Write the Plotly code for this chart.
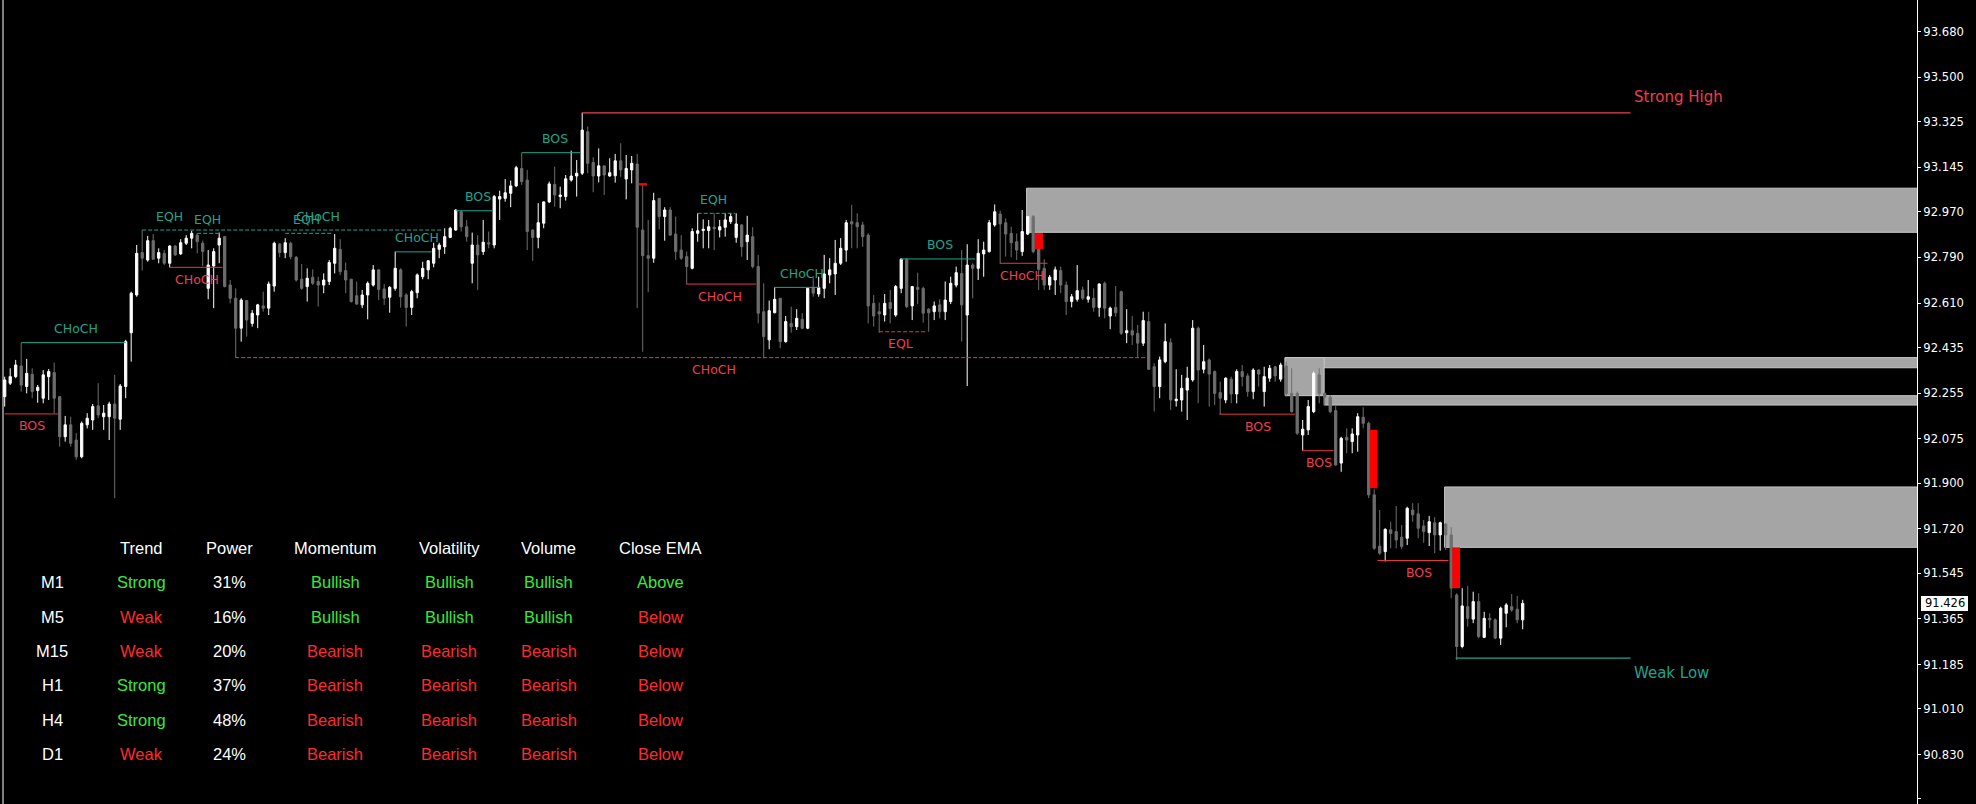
import plotly.graph_objects as go

# ---------------- candle data (M1 bars) ----------------
opens = [92.241,92.294,92.320,92.362,92.281,92.329,92.265,92.235,92.320,92.336,
92.241,92.083,92.130,92.070,92.004,92.130,92.149,92.205,92.162,92.162,
92.212,92.152,92.281,92.493,92.642,92.809,92.780,92.856,92.787,92.806,
92.767,92.835,92.804,92.846,92.866,92.878,92.846,92.668,92.756,92.839,
92.872,92.681,92.629,92.511,92.620,92.530,92.563,92.599,92.590,92.677,
92.843,92.809,92.846,92.791,92.704,92.675,92.712,92.695,92.681,92.695,
92.767,92.822,92.738,92.704,92.639,92.603,92.642,92.681,92.741,92.666,
92.633,92.668,92.741,92.642,92.593,92.651,92.714,92.741,92.767,92.822,
92.832,92.869,92.898,92.970,92.911,92.767,92.839,92.813,92.848,92.839,
93.020,93.023,93.043,93.072,93.141,93.095,92.898,92.869,92.925,93.009,
93.078,93.030,93.030,93.095,93.111,93.122,93.286,93.164,93.111,93.151,
93.111,93.112,93.171,93.099,93.135,93.158,92.898,92.797,92.787,93.023,
92.951,92.977,92.882,92.819,92.793,92.747,92.885,92.896,92.896,92.909,
92.898,92.909,92.931,92.869,92.918,92.852,92.872,92.754,92.576,92.465,
92.572,92.629,92.458,92.530,92.517,92.546,92.511,92.672,92.646,92.668,
92.721,92.725,92.767,92.819,92.931,92.927,92.918,92.878,92.609,92.576,
92.563,92.612,92.563,92.668,92.783,92.599,92.672,92.668,92.586,92.576,
92.603,92.576,92.616,92.681,92.727,92.563,92.760,92.747,92.804,92.813,
92.918,92.961,92.927,92.885,92.852,92.813,92.882,92.951,92.822,92.747,
92.681,92.701,92.738,92.681,92.616,92.625,92.662,92.625,92.629,92.593,
92.688,92.559,92.593,92.655,92.493,92.501,92.491,92.452,92.537,92.359,
92.281,92.379,92.454,92.225,92.228,92.267,92.307,92.511,92.349,92.386,
92.340,92.257,92.228,92.310,92.252,92.340,92.323,92.261,92.346,92.261,
92.314,92.359,92.310,92.362,92.254,92.254,92.090,92.110,92.182,92.327,
92.254,92.239,92.186,91.979,92.081,92.064,92.090,92.160,92.136,91.854,
91.652,91.630,91.716,91.709,91.687,91.683,91.794,91.779,91.731,91.705,
91.744,91.696,91.739,91.696,91.459,91.256,91.413,91.364,91.433,91.292,
91.367,91.361,91.289,91.387,91.413,91.403,91.361]

highs = [92.320,92.353,92.386,92.454,92.390,92.353,92.287,92.346,92.350,92.375,
92.244,92.165,92.162,92.097,92.143,92.176,92.212,92.294,92.208,92.221,
92.327,92.291,92.465,92.655,92.839,92.898,92.875,92.882,92.826,92.819,
92.838,92.839,92.862,92.878,92.895,92.885,92.856,92.819,92.826,92.888,
92.875,92.701,92.668,92.629,92.622,92.583,92.607,92.655,92.695,92.852,
92.846,92.866,92.852,92.796,92.764,92.747,92.743,92.714,92.727,92.780,
92.882,92.862,92.770,92.704,92.695,92.662,92.695,92.760,92.743,92.685,
92.677,92.813,92.747,92.649,92.662,92.727,92.773,92.780,92.848,92.848,
92.905,92.911,92.980,92.974,92.938,92.888,92.878,92.938,92.892,93.036,
93.053,93.099,93.093,93.151,93.203,93.135,92.901,93.004,93.010,93.089,
93.148,93.069,93.115,93.211,93.174,93.361,93.306,93.185,93.220,93.151,
93.181,93.198,93.240,93.194,93.190,93.198,93.076,92.938,93.045,93.023,
92.988,92.988,92.951,92.878,92.813,92.905,92.964,92.940,92.938,92.964,
92.938,92.964,92.964,92.964,92.922,92.954,92.909,92.800,92.688,92.620,
92.672,92.629,92.559,92.596,92.586,92.570,92.672,92.708,92.714,92.800,
92.787,92.859,92.866,92.938,92.997,92.964,92.931,92.885,92.642,92.612,
92.646,92.662,92.681,92.787,92.787,92.677,92.730,92.675,92.590,92.616,
92.625,92.695,92.714,92.754,92.819,92.842,92.767,92.862,92.852,92.938,
92.999,92.974,92.944,92.911,92.885,92.977,92.951,92.957,92.832,92.783,
92.721,92.754,92.754,92.695,92.646,92.760,92.675,92.701,92.668,92.688,
92.695,92.596,92.677,92.659,92.586,92.559,92.524,92.576,92.576,92.373,
92.399,92.530,92.471,92.349,92.327,92.359,92.543,92.517,92.445,92.392,
92.344,92.300,92.317,92.320,92.349,92.366,92.333,92.353,92.349,92.359,
92.366,92.362,92.375,92.379,92.353,92.261,92.149,92.228,92.340,92.353,
92.261,92.248,92.208,92.083,92.116,92.116,92.176,92.199,92.143,91.876,
91.794,91.722,91.748,91.810,91.735,91.807,91.821,91.821,91.755,91.771,
91.766,91.748,91.742,91.726,91.466,91.486,91.495,91.472,91.466,91.393,
91.387,91.367,91.413,91.427,91.463,91.455,91.440]

lows = [92.202,92.287,92.314,92.261,92.254,92.235,92.217,92.215,92.228,92.176,
92.044,92.064,92.044,91.992,91.998,92.116,92.110,92.156,92.110,92.070,
91.841,92.110,92.235,92.379,92.635,92.738,92.773,92.780,92.767,92.760,
92.751,92.796,92.800,92.839,92.826,92.806,92.756,92.625,92.590,92.767,
92.672,92.609,92.395,92.458,92.478,92.517,92.511,92.576,92.563,92.655,
92.791,92.787,92.783,92.695,92.662,92.616,92.681,92.596,92.649,92.681,
92.727,92.721,92.649,92.612,92.603,92.590,92.546,92.675,92.622,92.603,
92.572,92.659,92.592,92.517,92.563,92.629,92.704,92.704,92.751,92.787,
92.804,92.866,92.895,92.892,92.852,92.688,92.662,92.800,92.826,92.826,
92.938,93.010,92.988,93.067,93.076,92.819,92.777,92.826,92.905,93.004,
92.990,92.984,93.014,93.089,93.030,93.115,93.122,93.047,93.086,93.036,
93.108,93.085,93.108,93.019,93.082,92.590,92.418,92.653,92.769,92.901,
92.856,92.875,92.780,92.780,92.685,92.743,92.852,92.826,92.826,92.819,
92.869,92.872,92.922,92.848,92.793,92.780,92.747,92.530,92.392,92.428,
92.570,92.432,92.454,92.493,92.504,92.507,92.507,92.635,92.635,92.629,
92.688,92.642,92.760,92.773,92.826,92.826,92.832,92.530,92.517,92.493,
92.537,92.530,92.556,92.649,92.590,92.543,92.606,92.533,92.497,92.543,
92.550,92.543,92.606,92.672,92.458,92.283,92.629,92.701,92.714,92.809,
92.911,92.767,92.793,92.791,92.780,92.796,92.878,92.806,92.662,92.662,
92.662,92.642,92.649,92.563,92.593,92.616,92.622,92.612,92.576,92.556,
92.550,92.507,92.556,92.484,92.452,92.445,92.396,92.441,92.346,92.182,
92.235,92.373,92.189,92.202,92.182,92.149,92.300,92.215,92.333,92.202,
92.208,92.169,92.215,92.215,92.215,92.281,92.241,92.231,92.281,92.202,
92.300,92.300,92.300,92.241,92.178,92.090,92.028,92.090,92.176,92.215,
92.208,92.176,91.968,91.945,92.018,92.018,92.024,92.116,91.841,91.637,
91.617,91.591,91.643,91.643,91.640,91.656,91.748,91.683,91.665,91.652,
91.624,91.634,91.637,91.446,91.203,91.249,91.334,91.348,91.289,91.289,
91.328,91.285,91.262,91.332,91.393,91.348,91.324]

closes = [92.307,92.320,92.366,92.287,92.333,92.261,92.278,92.327,92.340,92.235,
92.083,92.130,92.057,92.004,92.136,92.156,92.202,92.169,92.176,92.212,
92.156,92.283,92.458,92.649,92.806,92.787,92.856,92.783,92.809,92.767,
92.835,92.800,92.848,92.866,92.885,92.852,92.813,92.760,92.813,92.866,
92.675,92.629,92.511,92.622,92.543,92.570,92.603,92.590,92.685,92.846,
92.809,92.848,92.793,92.701,92.668,92.708,92.688,92.681,92.701,92.770,
92.826,92.734,92.701,92.616,92.606,92.642,92.688,92.741,92.664,92.629,
92.672,92.747,92.635,92.593,92.655,92.721,92.747,92.777,92.826,92.839,
92.872,92.905,92.977,92.911,92.872,92.839,92.800,92.850,92.843,93.030,
93.030,93.045,93.072,93.144,93.089,92.892,92.869,92.927,93.009,93.080,
93.036,93.036,93.100,93.111,93.122,93.292,93.161,93.111,93.151,93.115,
93.124,93.171,93.135,93.141,93.161,92.909,92.797,92.787,93.014,92.951,
92.977,92.878,92.813,92.787,92.754,92.892,92.895,92.901,92.911,92.903,
92.911,92.938,92.951,92.922,92.832,92.878,92.754,92.570,92.478,92.580,
92.625,92.458,92.537,92.517,92.550,92.511,92.668,92.649,92.672,92.725,
92.741,92.767,92.826,92.927,92.922,92.911,92.872,92.599,92.559,92.567,
92.609,92.589,92.675,92.783,92.596,92.675,92.664,92.570,92.572,92.599,
92.576,92.622,92.688,92.730,92.603,92.760,92.747,92.806,92.819,92.927,
92.970,92.922,92.882,92.848,92.819,92.892,92.951,92.813,92.743,92.681,
92.712,92.741,92.681,92.616,92.635,92.659,92.629,92.635,92.593,92.685,
92.590,92.590,92.572,92.491,92.501,92.484,92.452,92.541,92.349,92.281,
92.386,92.458,92.228,92.231,92.274,92.314,92.511,92.346,92.379,92.330,
92.254,92.235,92.314,92.252,92.340,92.320,92.261,92.346,92.330,92.320,
92.353,92.323,92.366,92.254,92.182,92.097,92.113,92.202,92.333,92.254,
92.239,92.182,91.972,92.077,92.070,92.094,92.162,92.136,91.854,91.643,
91.624,91.718,91.702,91.676,91.650,91.801,91.775,91.722,91.709,91.748,
91.696,91.744,91.696,91.486,91.256,91.416,91.367,91.433,91.295,91.367,
91.361,91.289,91.407,91.420,91.400,91.361,91.426]

bar_index = list(range(len(closes)))
last_price = 91.426

# ---------------- market-structure events ----------------
struct_start = [0, 3, 25, 35, 35, 51, 29.9, 41.9, 71, 82, 94, 126, 123.9, 139.9, 159, 162.9, 180.9, 220.9, 235.9, 249.6]
struct_end   = [9.7, 22, 35, 39, 79.5, 59.5, 39.6, 208.2, 77.6, 88.7, 104.6, 132.8, 136.6, 148.2, 167.7, 176.4, 189.6, 234.6, 241.6, 262.5]
struct_price = [92.173, 92.454, 92.898, 92.885, 92.898, 92.885, 92.751, 92.395, 92.812, 92.974, 93.203, 92.964, 92.685, 92.672, 92.497, 92.784, 92.767, 92.172, 92.028, 91.595]
struct_label = ["BOS", "CHoCH", "EQH", "EQH", "CHoCH", "EQH", "CHoCH", "CHoCH", "CHoCH", "BOS", "BOS", "EQH", "CHoCH", "CHoCH", "EQL", "BOS", "CHoCH", "BOS", "BOS", "BOS"]
struct_label_at = [4.9, 13, 29.9, 36.8, 57, 54.8, 35, 129, 75, 86, 100, 128.8, 130, 145, 162.9, 170, 184.9, 227.9, 238.9, 257.2]
struct_bull  = [False, True, True, True, True, True, False, False, True, True, True, True, False, True, False, True, False, False, False, False]
struct_dashed = [False, False, True, True, True, True, False, True, False, False, False, True, False, False, True, False, False, False, False, False]

# strong high / weak low
swing_names = ["Strong High", "Weak Low"]
swing_start = [105, 263.8]
swing_end = [295.6, 295.6]
swing_price = [93.360, 91.210]

# supply zones (gray): start bar, top price, bottom price, end bar (None = to the right edge)
zone_start = [185.8, 232.8, 232.8, 239.9, 261.8]
zone_end   = [None, None, 239.9, None, None]
zone_top   = [93.063, 92.395, 92.395, 92.245, 91.885]
zone_bot   = [92.889, 92.355, 92.245, 92.208, 91.647]

# red imbalance blocks
red_x0 = [115.3, 187.3, 248.2, 263.2]
red_x1 = [116.8, 188.8, 249.6, 264.6]
red_top = [93.083, 92.886, 92.110, 91.647]
red_bot = [93.074, 92.823, 91.880, 91.486]

# price axis
tick_vals = [93.680, 93.500, 93.325, 93.145, 92.970, 92.790, 92.610, 92.435, 92.255,
             92.075, 91.900, 91.720, 91.545, 91.365, 91.185, 91.010, 90.830, 90.655]

# dashboard table
table_headers = ["Trend", "Power", "Momentum", "Volatility", "Volume", "Close EMA"]
timeframes = ["M1", "M5", "M15", "H1", "H4", "D1"]
trend = ["Strong", "Weak", "Weak", "Strong", "Strong", "Weak"]
power = ["31%", "16%", "20%", "37%", "48%", "24%"]
momentum = ["Bullish", "Bullish", "Bearish", "Bearish", "Bearish", "Bearish"]
volatility = ["Bullish", "Bullish", "Bearish", "Bearish", "Bearish", "Bearish"]
volume = ["Bullish", "Bullish", "Bearish", "Bearish", "Bearish", "Bearish"]
close_ema = ["Above", "Below", "Below", "Below", "Below", "Below"]

# ---------------- styling ----------------
W, H = 1976, 804
ML, MR = 3, 59
PLOT_W = W - ML - MR
BULL = "#22a38e"
BEAR = "#ef3f4f"
BEAR_LINE = "#e53945"
GREEN = "#3ae83a"
RED = "#ff2b2b"
GRAY_C = "#6e6e6e"

fig = go.Figure()
fig.add_trace(go.Candlestick(
    x=bar_index, open=opens, high=highs, low=lows, close=closes,
    increasing=dict(line=dict(color="#ffffff", width=1), fillcolor="#ffffff"),
    decreasing=dict(line=dict(color=GRAY_C, width=1), fillcolor=GRAY_C),
    whiskerwidth=0, hoverinfo="skip", showlegend=False,
))

shapes = []
X_RIGHT = 347.69
for s, e, t, b in zip(zone_start, zone_end, zone_top, zone_bot):
    shapes.append(dict(type="rect", xref="x", yref="y", x0=s, x1=(X_RIGHT + 2 if e is None else e),
                       y0=b, y1=t, fillcolor="#a5a5a5", line=dict(color="#c8c8c8", width=1), layer="below"))
for x0, x1, t, b in zip(red_x0, red_x1, red_top, red_bot):
    shapes.append(dict(type="rect", xref="x", yref="y", x0=x0, x1=x1, y0=b, y1=t,
                       fillcolor="#ff0000", line=dict(width=0), layer="above"))

annotations = []
for s, e, p, lab, la, bull, dsh in zip(struct_start, struct_end, struct_price, struct_label,
                                       struct_label_at, struct_bull, struct_dashed):
    col = BULL if bull else BEAR_LINE
    shapes.append(dict(type="line", xref="x", yref="y", x0=s, x1=e, y0=p, y1=p,
                       line=dict(color=col, width=1, dash="4px,2px" if dsh else "solid"), layer="above"))
    annotations.append(dict(x=la, y=p, xref="x", yref="y", text=lab, showarrow=False,
                            xanchor="center", yanchor="middle", yshift=14 if bull else -12,
                            font=dict(family="DejaVu Sans", size=12.5, color=BULL if bull else BEAR)))

for name, s, e, p in zip(swing_names, swing_start, swing_end, swing_price):
    col = BEAR if name.startswith("Strong") else BULL
    shapes.append(dict(type="line", xref="x", yref="y", x0=s, x1=e, y0=p, y1=p,
                       line=dict(color=col, width=1.3), layer="above"))
    annotations.append(dict(x=e, y=p, xref="x", yref="y", text=name, showarrow=False,
                            xanchor="left", yanchor="middle", xshift=1,
                            yshift=16 if name.startswith("Strong") else -15,
                            font=dict(family="DejaVu Sans", size=15, color=col)))

# left border
shapes.append(dict(type="line", xref="paper", yref="paper", x0=0, x1=0, y0=0, y1=1,
                   line=dict(color="#ffffff", width=1)))

# current price tag (box on the price scale + its text)
tag_half = 7.5 / 253.65
shapes.append(dict(type="rect", xref="paper", yref="y", x0=1 + 4 / PLOT_W, x1=1 + 51 / PLOT_W,
                   y0=last_price - tag_half, y1=last_price + tag_half,
                   fillcolor="#ffffff", line=dict(width=0), layer="above"))
annotations.append(dict(x=1 + 27.5 / PLOT_W, xref="paper", y=last_price, yref="y", text=f"{last_price:.3f}",
                        showarrow=False, xanchor="center", yanchor="middle",
                        font=dict(family="DejaVu Sans", size=11.5, color="#000000")))

# dashboard table
def px_x(p):
    return (p - ML) / PLOT_W

def px_y(p):
    return 1 - p / H

col_x = [141, 229.5, 335, 449, 548.5, 660]
row_label_x = 52
header_y = 547.7
row_y0, row_dy = 582.3, 34.35
TFONT = "Liberation Sans, Arial, sans-serif"
TSIZE = 16.5

def tann(x, y, text, color):
    annotations.append(dict(x=px_x(x), y=px_y(y), xref="paper", yref="paper", text=text,
                            showarrow=False, xanchor="center", yanchor="middle",
                            font=dict(family=TFONT, size=TSIZE, color=color)))

for cx, h in zip(col_x, table_headers):
    tann(cx, header_y, h, "#ffffff")

def cval(v):
    return GREEN if v in ("Strong", "Bullish", "Above") else RED

for i, tf in enumerate(timeframes):
    y = row_y0 + i * row_dy
    tann(row_label_x, y, tf, "#ffffff")
    tann(col_x[0], y, trend[i], cval(trend[i]))
    tann(col_x[1], y, power[i], "#ffffff")
    tann(col_x[2], y, momentum[i], cval(momentum[i]))
    tann(col_x[3], y, volatility[i], cval(volatility[i]))
    tann(col_x[4], y, volume[i], cval(volume[i]))
    tann(col_x[5], y, close_ema[i], cval(close_ema[i]))

fig.update_layout(
    width=W, height=H,
    margin=dict(l=ML, r=MR, t=0, b=0, pad=0, autoexpand=False),
    paper_bgcolor="#000000", plot_bgcolor="#000000",
    boxgap=0.42,
    shapes=shapes, annotations=annotations,
    showlegend=False,
    xaxis=dict(range=[-0.309, X_RIGHT], showgrid=False, zeroline=False, showticklabels=False,
               ticks="", showline=False, rangeslider=dict(visible=False), fixedrange=True),
    yaxis=dict(side="right", range=[90.635, 93.805], tickvals=tick_vals,
               ticktext=[f"{v:.3f}" for v in tick_vals],
               tickfont=dict(family="DejaVu Sans", size=11.6, color="#ffffff"),
               ticks="outside", ticklen=3, tickcolor="#ffffff", tickwidth=1,
               showline=True, linecolor="#ffffff", linewidth=1,
               showgrid=False, zeroline=False, fixedrange=True),
)

fig.write_html("out.html", config={"displayModeBar": False},
               post_script="document.body.style.margin='0';document.body.style.overflow='hidden';")
